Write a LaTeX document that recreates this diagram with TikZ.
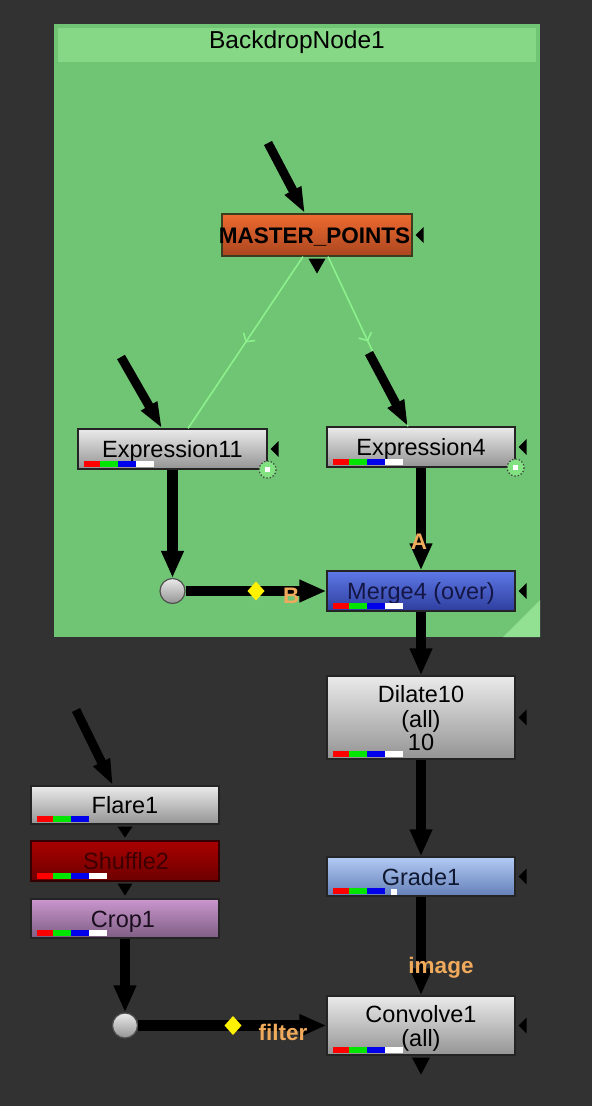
\documentclass[tikz,border=0pt]{standalone}
\usepackage{fontspec}
\setmainfont{Liberation Sans}
\usetikzlibrary{arrows.meta,calc,decorations.markings,shapes.geometric}

\definecolor{bg}{RGB}{50,50,50}
\definecolor{bdbody}{RGB}{112,197,116}
\definecolor{bdhead}{RGB}{134,215,134}
\definecolor{bdcorner}{RGB}{146,224,146}
\definecolor{grayT}{RGB}{234,234,234}
\definecolor{grayB}{RGB}{148,148,148}
\definecolor{mpT}{RGB}{238,106,48}
\definecolor{mpB}{RGB}{170,70,32}
\definecolor{mgT}{RGB}{94,120,230}
\definecolor{mgB}{RGB}{46,62,158}
\definecolor{shT}{RGB}{170,0,0}
\definecolor{shB}{RGB}{108,0,0}
\definecolor{crT}{RGB}{202,150,206}
\definecolor{crB}{RGB}{126,94,132}
\definecolor{grT}{RGB}{178,202,244}
\definecolor{grB}{RGB}{100,128,184}
\definecolor{linkgreen}{RGB}{140,240,140}
\definecolor{lblorange}{RGB}{240,170,92}
\definecolor{nkborder}{RGB}{36,36,36}
\definecolor{exprgreen}{RGB}{130,226,130}
\definecolor{barred}{RGB}{255,0,0}
\definecolor{bargreen}{RGB}{0,230,0}
\definecolor{barblue}{RGB}{0,0,235}
\definecolor{mgtext}{RGB}{20,22,70}
\definecolor{grtext}{RGB}{16,24,48}
\definecolor{shborder}{RGB}{50,0,0}
\definecolor{shtext}{RGB}{60,0,0}
\definecolor{crtext}{RGB}{26,14,30}
\definecolor{mpborder}{RGB}{60,60,30}

\newcommand{\nkfont}{\fontsize{23.5}{26}\selectfont}
\newcommand{\nkfull}[1]{%
  \fill[barred]   ($(#1.south west)+(7,-9)$)  rectangle ++(16,6);
  \fill[bargreen] ($(#1.south west)+(23,-9)$) rectangle ++(18,6);
  \fill[barblue]  ($(#1.south west)+(41,-9)$) rectangle ++(18,6);
  \fill[white]    ($(#1.south west)+(59,-9)$) rectangle ++(18,6);}
\newcommand{\nkthree}[1]{%
  \fill[barred]   ($(#1.south west)+(7,-9)$)  rectangle ++(16,6);
  \fill[bargreen] ($(#1.south west)+(23,-9)$) rectangle ++(18,6);
  \fill[barblue]  ($(#1.south west)+(41,-9)$) rectangle ++(18,6);}
\newcommand{\nkmask}[1]{%
  \fill[black] ($(#1.east)+(3,0)$) -- ($(#1.east)+(11,-8)$) -- ($(#1.east)+(11,8)$) -- cycle;}
\newcommand{\nkout}[3]{%
  \fill[black] ($(#1.south)+(-#2,2)$) -- ($(#1.south)+(#2,2)$) -- ($(#1.south)+(0,2+#3)$) -- cycle;}
\newcommand{\nkexpr}[1]{%
  \filldraw[fill=exprgreen, draw=black!75, dotted, line width=1.3pt] (#1.south east) circle[radius=8.5];
  \fill[white] ($(#1.south east)+(-3,-2.5)$) rectangle ++(5,5);}

\tikzset{
  nkbox/.style={draw=nkborder, line width=1.2pt, minimum width=188pt, minimum height=40pt,
    inner sep=0pt, text height=17pt, text depth=0pt, font=\nkfont,
    top color=grayT, bottom color=grayB},
  nktext/.style={inner sep=0pt, text height=17pt, text depth=0pt, font=\nkfont},
  conn/.style={line width=10.5pt, -{Triangle[width=21pt,length=27pt]}},
  stub/.style={line width=9pt, -{Triangle[width=17pt,length=26pt]}},
  explink/.style={draw=linkgreen, line width=1.6pt, postaction={decorate},
    decoration={markings, mark=at position 0.5 with {\arrow[linkgreen]{Straight Barb[length=6pt,width=14pt]}}}},
  dotn/.style={circle, minimum size=25pt, inner sep=0pt, draw=nkborder!80, line width=1.2pt,
    top color=grayT, bottom color=grayB},
  diam/.style={diamond, fill=yellow, minimum width=17pt, minimum height=19pt, inner sep=0pt, outer sep=0pt},
  lbl/.style={inner sep=0pt, text height=16pt, text depth=0pt, text=lblorange,
    font=\fontsize{22.5}{24}\selectfont\bfseries},
}

\begin{document}
\begin{tikzpicture}[x=1pt,y=-1pt]
\useasboundingbox (0,0) rectangle (592,1106);
\fill[bg] (0,0) rectangle (592,1106);

% backdrop
\node[fill=bdbody, minimum width=486pt, minimum height=613pt, inner sep=0pt, anchor=north west] (bd) at (54,24) {};
\fill[bdhead] (58,28) rectangle (536,62);
\fill[bdcorner] (540,600) -- (540,637) -- (503,637) -- cycle;
\node[nktext, font=\fontsize{24.5}{26}\selectfont] (bdtitle) at (297,40) {BackdropNode1};

% nodes
\node[nkbox, minimum width=190pt, minimum height=42pt, draw=mpborder, top color=mpT, bottom color=mpB] (mp) at (317,235) {};
\node[nktext, font=\fontsize{22.5}{24}\selectfont\bfseries] (mplabel) at (314.5,235) {MASTER\_POINTS};

\node[nkbox, minimum width=189pt] (e11) at (172.5,449) {Expression11};
\node[nkbox] (e4) at (421,447) {Expression4};
\node[nkbox, top color=mgT, bottom color=mgB] (m4) at (421,591) {};
\node[nktext, text=mgtext] (m4label) at (421,591) {Merge4 (over)};
\node[nkbox, minimum height=83pt] (dl) at (421,717.5) {};
\node[nktext] (dlA) at (421,693.5) {Dilate10};
\node[nktext] (dlB) at (421,719) {(all)};
\node[nktext] (dlC) at (421,741.5) {10};
\node[nkbox, minimum height=39pt, top color=grT, bottom color=grB] (gr) at (421,876.5) {};
\node[nktext, text=grtext] (grlabel) at (421,876.5) {Grade1};
\node[nkbox, minimum height=59pt] (cv) at (421,1025.5) {};
\node[nktext] (cvA) at (421,1013.5) {Convolve1};
\node[nktext] (cvB) at (421,1038) {(all)};

\node[nkbox, minimum height=38pt] (fl) at (125,805) {Flare1};
\node[nkbox, top color=shT, bottom color=shB, draw=shborder] (sh) at (125,861) {};
\node[nktext, text=shtext] (shlabel) at (126,861) {Shuffle2};
\node[nkbox, minimum height=39pt, top color=crT, bottom color=crB] (cr) at (125,918.5) {};
\node[nktext, text=crtext] (crlabel) at (123,918.5) {Crop1};

\node[dotn] (dot1) at (172.5,591) {};
\node[dotn] (dot2) at (125,1025.5) {};

% colour bars
\nkfull{e11}
\nkfull{e4}
\nkfull{m4}
\nkfull{dl}
\nkthree{gr}
\fill[white] ($(gr.south west)+(65,-8)$) rectangle ++(6,6);
\nkfull{cv}
\nkthree{fl}
\nkfull{sh}
\nkfull{cr}

% expression links
\draw[explink] ($(mp.south)+(-14,0)$) -- ($(e11.north)+(15.5,0)$);
\draw[explink] ($(mp.south)+(11,0)$) -- ($(e4.north)+(-13,0)$);

% input stubs
\coordinate (mpin) at (268,143);
\coordinate (e11in) at (121,357);
\coordinate (e4in) at (369,353);
\coordinate (flin) at (76,710);
\draw[stub] (mpin) -- ($(mp.north)+(-12,0)$);
\draw[stub] (e11in) -- ($(e11.north)+(-10.5,0)$);
\draw[stub] (e4in) -- ($(e4.north)+(-13,0)$);
\draw[stub] (flin) -- ($(fl.north)+(-12,0)$);

% connectors
\draw[conn] (e11) -- (dot1);
\draw[conn] (dot1) -- (m4) node[diam, pos=0.5] (dia1) {} node[lbl, pos=0.75, yshift=-4pt] (lblB) {B};
\draw[conn] (e4) -- (m4) node[lbl, pos=0.72, xshift=-2pt] (lblA) {A};
\draw[conn] (m4) -- (dl);
\draw[conn] (dl) -- (gr);
\draw[conn] (gr) -- (cv) node[lbl, pos=0.7, xshift=20pt] (lblimg) {image};
\draw[conn] (cr) -- (dot2);
\draw[conn] (dot2) -- (cv) node[diam, pos=0.504] (dia2) {} node[lbl, pos=0.77, yshift=-6.5pt] (lblfilter) {filter};

% indicators
\nkmask{mp}
\nkmask{e11}
\nkmask{e4}
\nkmask{m4}
\nkmask{dl}
\nkmask{gr}
\nkmask{cv}
\nkout{mp}{8.5}{15}
\nkout{cv}{9}{17}
\nkout{fl}{7.5}{11}
\nkout{sh}{7.5}{12}
\nkexpr{e11}
\nkexpr{e4}
\end{tikzpicture}
\end{document}
